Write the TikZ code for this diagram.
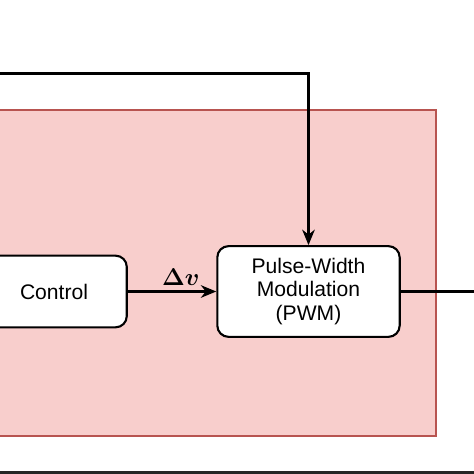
\documentclass[tikz,border=0pt]{standalone}
\usepackage{amsmath}
\usepackage{xcolor}
\usepackage{fontspec}
\setmainfont{Liberation Sans}
\usetikzlibrary{arrows.meta}

\definecolor{pinkfill}{HTML}{F8CECC}
\definecolor{pinkline}{HTML}{B85450}

\tikzset{
	block/.style={draw, fill=white, rounded corners=8pt, line width=1.5pt, align=center, font=\fontsize{15}{16.7}\selectfont},
	wire/.style={line width=1.5pt},
	arr/.style={wire, -{Stealth[length=11pt, width=9pt]}}
}

\begin{document}
\begin{tikzpicture}[x=0.025cm, y=-0.025cm]
			
			\clip (0,0) rectangle (474,474);
			
			\draw[pinkline, fill=pinkfill, line width=0.9pt] (-20,110) rectangle (436,436);
			
			\node[block, minimum width=103.5pt, minimum height=51pt] (ctrl) at (54,291.5) {Control};
			\node[block, minimum width=129.7pt, minimum height=64.5pt] (pwm) at (308.5,291.5) {Pulse-Width\\Modulation\\(PWM)};
			
			\coordinate (fbin) at (-10,73.5);
			\coordinate (pwmout) at (484,291.5);
			
			\draw[arr] (fbin) -| (pwm.north);
			\draw[arr] (ctrl.east) -- node[above, pos=0.6, yshift=0pt, font=\fontsize{17.5}{20}\selectfont] {$\boldsymbol{\Delta v}$} (pwm.west);
			\draw[wire] (pwm.east) -- (pwmout);
			
			\draw[line width=2pt, black!85] (-10,472.5) -- (484,472.5);
			
		\end{tikzpicture}
\end{document}
